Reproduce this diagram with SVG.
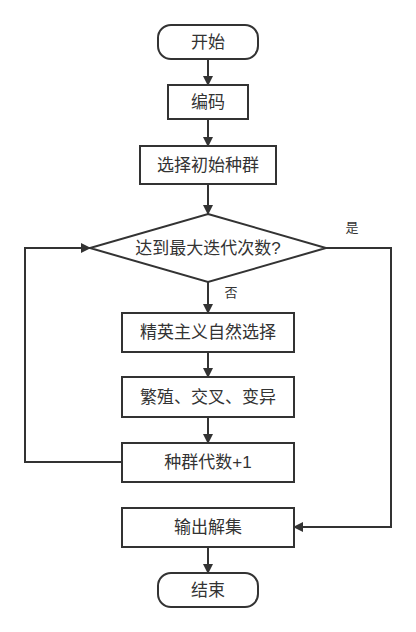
<svg xmlns="http://www.w3.org/2000/svg" width="416" height="632" viewBox="0 0 416 632">
<style>
.n{fill:#fff;stroke:#333;stroke-width:2}
.t{font-family:"Liberation Sans","Noto Sans CJK SC",sans-serif;font-size:17px;fill:#333;text-anchor:middle;dominant-baseline:central}
.s{font-family:"Liberation Sans","Noto Sans CJK SC",sans-serif;font-size:13px;fill:#333;text-anchor:middle;dominant-baseline:central}
.c{fill:none;stroke:#333;stroke-width:2}
</style>
<defs>
<marker id="a" markerWidth="10" markerHeight="10" refX="9" refY="5" orient="auto" markerUnits="userSpaceOnUse">
<path d="M0,0 L10,5 L0,10 Z" fill="#333"/>
</marker>
</defs>
<rect width="416" height="632" fill="#fff"/>
<g id="connectors">
<line class="c" x1="208" y1="59" x2="208" y2="85" marker-end="url(#a)"/>
<line class="c" x1="208" y1="119" x2="208" y2="146" marker-end="url(#a)"/>
<line class="c" x1="208" y1="184" x2="208" y2="214" marker-end="url(#a)"/>
<line class="c" x1="208" y1="282" x2="208" y2="313" marker-end="url(#a)"/>
<line class="c" x1="208" y1="352" x2="208" y2="377" marker-end="url(#a)"/>
<line class="c" x1="208" y1="417" x2="208" y2="443" marker-end="url(#a)"/>
<line class="c" x1="208" y1="547" x2="208" y2="573" marker-end="url(#a)"/>
<polyline class="c" points="122,462 25,462 25,248 90,248" marker-end="url(#a)"/>
<polyline class="c" points="326,248 391,248 391,527 294,527" marker-end="url(#a)"/>
<text class="s" x="231" y="292">否</text>
<text class="s" x="352" y="227">是</text>
</g>
<g id="start"><rect class="n" x="158" y="25" width="100" height="34" rx="13"/><text class="t" x="208" y="42">开始</text></g>
<g id="encode"><rect class="n" x="168" y="85" width="80" height="34"/><text class="t" x="208" y="102">编码</text></g>
<g id="init"><rect class="n" x="140" y="146" width="136" height="38"/><text class="t" x="208" y="165">选择初始种群</text></g>
<g id="decision"><polygon class="n" points="208,214 326,248 208,282 90,248"/><text class="t" x="208" y="248">达到最大迭代次数?</text></g>
<g id="elite"><rect class="n" x="122" y="313" width="172" height="39"/><text class="t" x="208" y="332">精英主义自然选择</text></g>
<g id="breed"><rect class="n" x="122" y="377" width="172" height="40"/><text class="t" x="208" y="397">繁殖、交叉、变异</text></g>
<g id="gen"><rect class="n" x="122" y="443" width="172" height="39"/><text class="t" x="208" y="462">种群代数+1</text></g>
<g id="output"><rect class="n" x="122" y="508" width="172" height="39"/><text class="t" x="208" y="527">输出解集</text></g>
<g id="end"><rect class="n" x="158" y="573" width="100" height="34" rx="13"/><text class="t" x="208" y="590">结束</text></g>
</svg>
